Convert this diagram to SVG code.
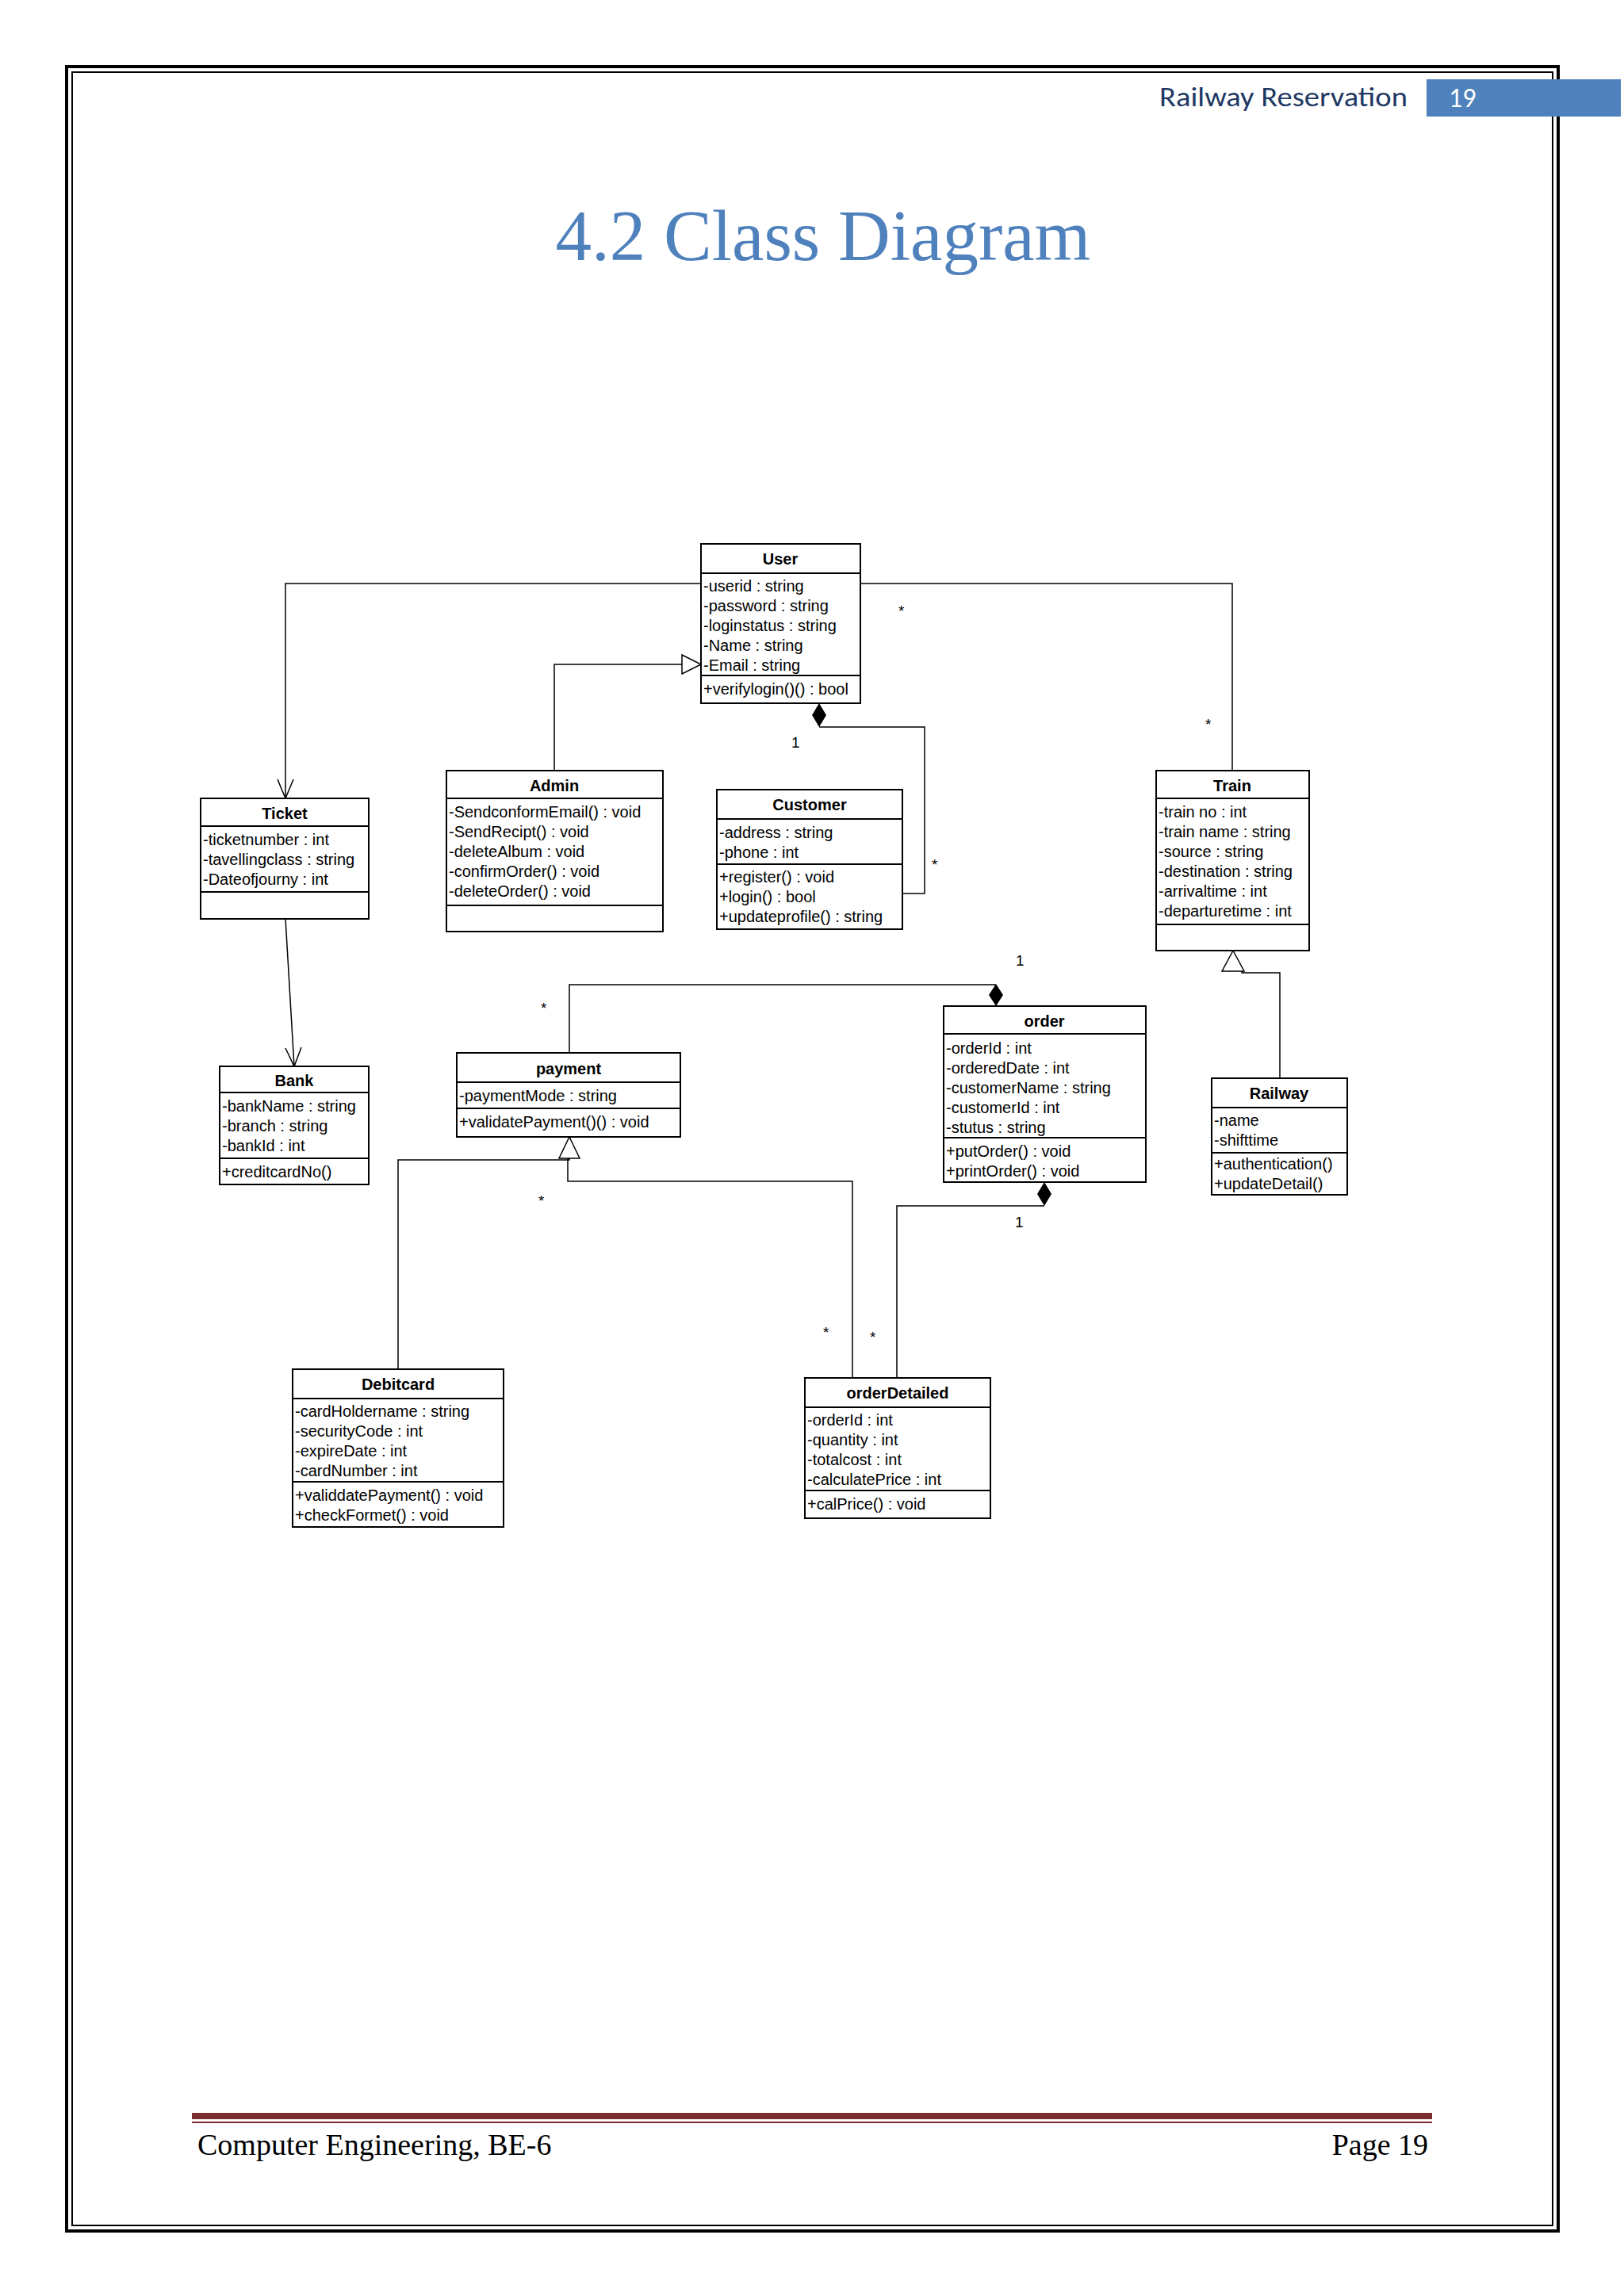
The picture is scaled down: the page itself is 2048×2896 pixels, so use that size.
<svg xmlns="http://www.w3.org/2000/svg" width="2048" height="2896" viewBox="0 0 2048 2896">
<style>
.box{fill:#fff;stroke:#000;stroke-width:2}
.sep{stroke:#000;stroke-width:2}
.t{font-family:"Liberation Sans",Arial,sans-serif;font-size:20px;fill:#000}
.h{font-family:"Liberation Sans",Arial,sans-serif;font-size:20px;font-weight:bold;fill:#000;text-anchor:middle}
.c{fill:none;stroke:#000;stroke-width:1.5}
.lbl{font-family:"Liberation Sans",Arial,sans-serif;font-size:19px;fill:#000}
</style>
<rect width="2048" height="2896" fill="#fff"/>
<rect x="84" y="84" width="1881" height="2730" fill="none" stroke="#000" stroke-width="4"/>
<rect x="91" y="91" width="1867" height="2716" fill="none" stroke="#000" stroke-width="2"/>
<text x="1775" y="134" text-anchor="end" font-family="Carlito,'Open Sans',sans-serif" font-size="34" fill="#1f3864" textLength="313" lengthAdjust="spacingAndGlyphs">Railway Reservation</text>
<rect x="1799" y="100" width="245" height="47" fill="#4f81bd"/>
<text x="1827" y="135" font-family="Carlito,'Open Sans',sans-serif" font-size="34" fill="#fff">19</text>
<text x="1038" y="328" text-anchor="middle" font-family="'Liberation Serif',serif" font-size="91" fill="#4f81bd">4.2 Class Diagram</text>
<rect x="242" y="2665" width="1564" height="8" fill="#7b2c2c"/>
<rect x="242" y="2676" width="1564" height="2" fill="#7b2c2c"/>
<text x="249" y="2718" font-family="'Liberation Serif',serif" font-size="38" fill="#000">Computer Engineering, BE-6</text>
<text x="1801" y="2718" text-anchor="end" font-family="'Liberation Serif',serif" font-size="38" fill="#000">Page 19</text>

<g id="connectors">
<polyline class="c" points="884,736 360,736 360,1007"/>
<polyline class="c" points="350,983 360,1007 370,983"/>
<line class="c" x1="360" y1="1159" x2="371" y2="1345"/>
<polyline class="c" points="360,1322 371,1345 380,1321"/>
<polyline class="c" points="699,972 699,838 860,838"/>
<polygon points="860,826 884,838 860,850" fill="#fff" stroke="#000" stroke-width="1.5"/>
<polyline class="c" points="1033,917 1166,917 1166,1127 1138,1127"/>
<polygon points="1033,887 1042,902 1033,917 1024,902" fill="#000"/>
<polyline class="c" points="1085,736 1554,736 1554,972"/>
<polyline class="c" points="1614,1360 1614,1227 1566,1227 1566,1225"/>
<polygon points="1555,1199 1569,1225 1541,1225" fill="#fff" stroke="#000" stroke-width="1.5"/>
<polyline class="c" points="718,1328 718,1242 1256,1242"/>
<polygon points="1256,1241 1265,1255 1256,1269 1247,1255" fill="#000"/>
<polyline class="c" points="502,1727 502,1463 718,1463 718,1461"/>
<polyline class="c" points="716,1461 716,1490 1075,1490 1075,1738"/>
<polygon points="718,1434 731,1461 705,1461" fill="#fff" stroke="#000" stroke-width="1.5"/>
<polyline class="c" points="1317,1521 1131,1521 1131,1738"/>
<polygon points="1317,1491 1326,1506 1317,1521 1308,1506" fill="#000"/>
<text class="lbl" x="998" y="943">1</text>
<text class="lbl" x="1175" y="1097">*</text>
<text class="lbl" x="1133" y="777">*</text>
<text class="lbl" x="1520" y="920">*</text>
<text class="lbl" x="682" y="1278">*</text>
<text class="lbl" x="1281" y="1218">1</text>
<text class="lbl" x="679" y="1521">*</text>
<text class="lbl" x="1038" y="1687">*</text>
<text class="lbl" x="1280" y="1548">1</text>
<text class="lbl" x="1097" y="1693">*</text>
</g>

<g id="User">
<rect class="box" x="884" y="686" width="201" height="201"/>
<line class="sep" x1="884" y1="723" x2="1085" y2="723"/><line class="sep" x1="884" y1="852" x2="1085" y2="852"/>
<text class="h" x="984" y="712">User</text>
<text class="t" x="887" y="746">-userid : string</text>
<text class="t" x="887" y="771">-password : string</text>
<text class="t" x="887" y="796">-loginstatus : string</text>
<text class="t" x="887" y="821">-Name : string</text>
<text class="t" x="887" y="846">-Email : string</text>
<text class="t" x="887" y="876">+verifylogin()() : bool</text>
</g>
<g id="Ticket">
<rect class="box" x="253" y="1007" width="212" height="152"/>
<line class="sep" x1="253" y1="1042" x2="465" y2="1042"/><line class="sep" x1="253" y1="1125" x2="465" y2="1125"/>
<text class="h" x="359" y="1033">Ticket</text>
<text class="t" x="256" y="1066">-ticketnumber : int</text>
<text class="t" x="256" y="1091">-tavellingclass : string</text>
<text class="t" x="256" y="1116">-Dateofjourny : int</text>
</g>
<g id="Admin">
<rect class="box" x="563" y="972" width="273" height="203"/>
<line class="sep" x1="563" y1="1007" x2="836" y2="1007"/><line class="sep" x1="563" y1="1142" x2="836" y2="1142"/>
<text class="h" x="699" y="998">Admin</text>
<text class="t" x="566" y="1031">-SendconformEmail() : void</text>
<text class="t" x="566" y="1056">-SendRecipt() : void</text>
<text class="t" x="566" y="1081">-deleteAlbum : void</text>
<text class="t" x="566" y="1106">-confirmOrder() : void</text>
<text class="t" x="566" y="1131">-deleteOrder() : void</text>
</g>
<g id="Customer">
<rect class="box" x="904" y="996" width="234" height="176"/>
<line class="sep" x1="904" y1="1033" x2="1138" y2="1033"/><line class="sep" x1="904" y1="1090" x2="1138" y2="1090"/>
<text class="h" x="1021" y="1022">Customer</text>
<text class="t" x="907" y="1057">-address : string</text>
<text class="t" x="907" y="1082">-phone : int</text>
<text class="t" x="907" y="1113">+register() : void</text>
<text class="t" x="907" y="1138">+login() : bool</text>
<text class="t" x="907" y="1163">+updateprofile() : string</text>
</g>
<g id="Train">
<rect class="box" x="1458" y="972" width="193" height="227"/>
<line class="sep" x1="1458" y1="1007" x2="1651" y2="1007"/><line class="sep" x1="1458" y1="1166" x2="1651" y2="1166"/>
<text class="h" x="1554" y="998">Train</text>
<text class="t" x="1461" y="1031">-train no : int</text>
<text class="t" x="1461" y="1056">-train name : string</text>
<text class="t" x="1461" y="1081">-source : string</text>
<text class="t" x="1461" y="1106">-destination : string</text>
<text class="t" x="1461" y="1131">-arrivaltime : int</text>
<text class="t" x="1461" y="1156">-departuretime : int</text>
</g>
<g id="Bank">
<rect class="box" x="277" y="1345" width="188" height="149"/>
<line class="sep" x1="277" y1="1378" x2="465" y2="1378"/><line class="sep" x1="277" y1="1461" x2="465" y2="1461"/>
<text class="h" x="371" y="1370">Bank</text>
<text class="t" x="280" y="1402">-bankName : string</text>
<text class="t" x="280" y="1427">-branch : string</text>
<text class="t" x="280" y="1452">-bankId : int</text>
<text class="t" x="280" y="1485">+creditcardNo()</text>
</g>
<g id="payment">
<rect class="box" x="576" y="1328" width="282" height="106"/>
<line class="sep" x1="576" y1="1365" x2="858" y2="1365"/><line class="sep" x1="576" y1="1398" x2="858" y2="1398"/>
<text class="h" x="717" y="1355">payment</text>
<text class="t" x="579" y="1389">-paymentMode : string</text>
<text class="t" x="579" y="1422">+validatePayment()() : void</text>
</g>
<g id="order">
<rect class="box" x="1190" y="1269" width="255" height="222"/>
<line class="sep" x1="1190" y1="1304" x2="1445" y2="1304"/><line class="sep" x1="1190" y1="1435" x2="1445" y2="1435"/>
<text class="h" x="1317" y="1295">order</text>
<text class="t" x="1193" y="1329">-orderId : int</text>
<text class="t" x="1193" y="1354">-orderedDate : int</text>
<text class="t" x="1193" y="1379">-customerName : string</text>
<text class="t" x="1193" y="1404">-customerId : int</text>
<text class="t" x="1193" y="1429">-stutus : string</text>
<text class="t" x="1193" y="1459">+putOrder() : void</text>
<text class="t" x="1193" y="1484">+printOrder() : void</text>
</g>
<g id="Railway">
<rect class="box" x="1528" y="1360" width="171" height="147"/>
<line class="sep" x1="1528" y1="1397" x2="1699" y2="1397"/><line class="sep" x1="1528" y1="1454" x2="1699" y2="1454"/>
<text class="h" x="1613" y="1386">Railway</text>
<text class="t" x="1531" y="1420">-name</text>
<text class="t" x="1531" y="1445">-shifttime</text>
<text class="t" x="1531" y="1475">+authentication()</text>
<text class="t" x="1531" y="1500">+updateDetail()</text>
</g>
<g id="Debitcard">
<rect class="box" x="369" y="1727" width="266" height="199"/>
<line class="sep" x1="369" y1="1764" x2="635" y2="1764"/><line class="sep" x1="369" y1="1869" x2="635" y2="1869"/>
<text class="h" x="502" y="1753">Debitcard</text>
<text class="t" x="372" y="1787">-cardHoldername : string</text>
<text class="t" x="372" y="1812">-securityCode : int</text>
<text class="t" x="372" y="1837">-expireDate : int</text>
<text class="t" x="372" y="1862">-cardNumber : int</text>
<text class="t" x="372" y="1893">+validdatePayment() : void</text>
<text class="t" x="372" y="1918">+checkFormet() : void</text>
</g>
<g id="orderDetailed">
<rect class="box" x="1015" y="1738" width="234" height="177"/>
<line class="sep" x1="1015" y1="1775" x2="1249" y2="1775"/><line class="sep" x1="1015" y1="1880" x2="1249" y2="1880"/>
<text class="h" x="1132" y="1764">orderDetailed</text>
<text class="t" x="1018" y="1798">-orderId : int</text>
<text class="t" x="1018" y="1823">-quantity : int</text>
<text class="t" x="1018" y="1848">-totalcost : int</text>
<text class="t" x="1018" y="1873">-calculatePrice : int</text>
<text class="t" x="1018" y="1904">+calPrice() : void</text>
</g>
</svg>
